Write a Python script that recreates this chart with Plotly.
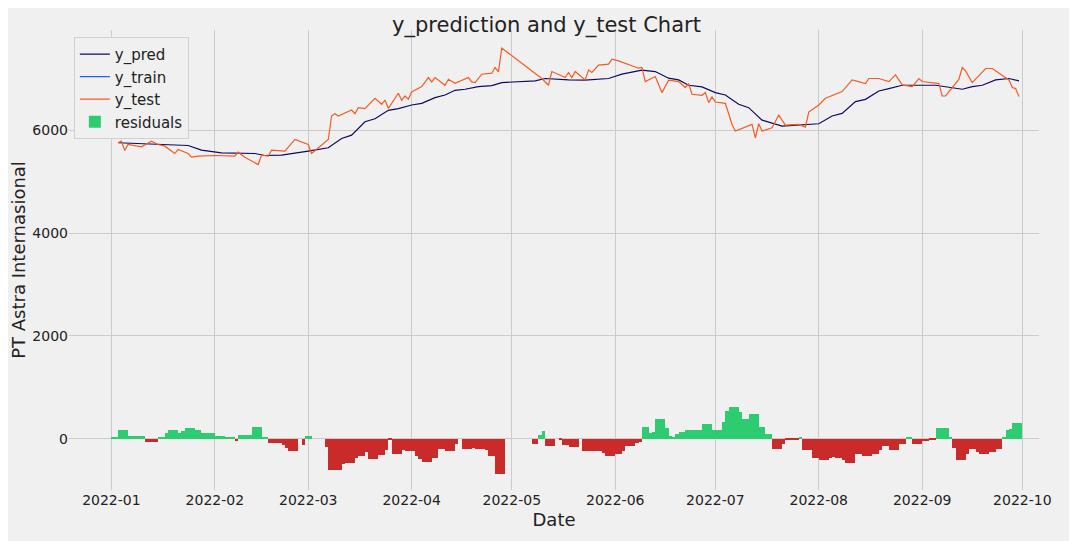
import pandas as pd
import plotly.graph_objects as go

BASE = pd.Timestamp("2022-01-01")

# y_test: day offset from 2022-01-01, value
test_day = [2,3,4,5,9,12,14,16,19,20,23,24,26,31,37,38,40,44,45,47,48,52,55,59,60,65,66,67,68,72,73,74,76,79,81,82,83,86,87,88,89,90,93,95,96,97,100,101,103,107,108,109,111,114,115,116,117,129,131,132,136,137,138,139,142,143,144,146,149,150,152,158,159,160,163,165,167,170,172,173,174,177,178,179,180,181,184,186,187,192,193,194,195,198,200,202,206,208,209,212,214,219,222,226,227,230,233,235,237,240,242,243,248,249,250,254,255,256,258,262,264,269,270,271,272]
test_val = [5756,5788,5605,5723,5677,5788,5723,5690,5547,5625,5547,5475,5495,5508,5495,5573,5475,5332,5514,5495,5612,5592,5820,5723,5547,5820,6276,6322,6276,6393,6322,6439,6420,6621,6504,6588,6426,6719,6582,6666,6601,6744,6849,7025,6939,7025,6875,6992,6914,7025,6939,6927,7090,7109,7220,7135,7597,7006,6875,7142,7025,7123,7025,7142,6979,7174,7123,7266,7285,7383,7350,7207,7220,6947,7045,6732,6973,6947,6830,6908,6699,6680,6732,6537,6647,6549,6523,6113,5983,6113,5853,6126,5983,6048,6295,6100,6113,6061,6354,6491,6621,6752,6979,6908,7006,7006,6947,7077,6881,6849,7006,6947,6908,6666,6666,6992,7220,7155,6927,7201,7201,6979,6830,6810,6654]

# y_pred
pred_day = [2,11,18,23,27,33,43,46,51,55,59,65,69,72,76,79,83,86,90,93,97,100,103,106,110,114,117,127,130,137,142,149,153,159,163,167,170,173,177,181,184,188,191,195,198,201,212,216,219,223,226,230,233,237,247,255,258,261,265,269,272]
pred_val = [5756,5736,5723,5703,5612,5560,5547,5508,5514,5560,5592,5658,5840,5905,6165,6224,6387,6420,6491,6523,6635,6686,6777,6797,6849,6868,6927,6960,7006,6979,6973,7006,7090,7168,7142,7012,6979,6875,6842,6732,6686,6504,6439,6197,6146,6081,6126,6276,6328,6556,6601,6764,6810,6875,6875,6797,6849,6875,6979,7006,6960]

# residuals (bar start day, value)
res_day = [0,2,5,7,10,14,16,17,20,21,22,25,27,28,31,34,37,38,42,45,47,49,51,52,53,56,57,58,60,64,65,69,70,71,73,74,76,77,80,82,83,84,87,88,91,92,93,96,98,100,103,104,105,108,109,112,113,115,118,126,128,129,130,133,134,135,137,140,141,147,148,151,153,154,157,158,159,161,162,163,166,167,168,169,170,172,177,180,183,184,185,188,189,191,194,196,198,201,202,204,206,207,210,212,215,216,217,219,220,223,225,228,230,231,233,236,238,240,243,245,246,247,251,252,253,256,257,259,260,263,265,267,268,269,270,273]
res_val = [20,160,50,55,-60,30,110,170,100,150,210,170,110,100,55,30,-40,70,235,30,-90,-80,-120,-180,-250,0,-130,60,0,-170,-620,-500,-470,-480,-380,-330,-260,-400,-320,-230,-30,-300,-220,-240,-330,-390,-450,-370,-200,-250,-110,0,-210,-180,-210,-230,-340,-680,0,-110,70,140,-150,0,-20,-120,-170,0,-250,-280,-340,-300,-250,-140,-90,-60,220,100,130,390,200,60,40,80,120,170,280,170,320,530,610,510,380,470,220,90,-210,-100,-20,-20,40,-230,-370,-420,-380,-360,-380,-420,-480,-290,-330,-290,-230,-150,-230,-100,40,-110,-50,-20,-30,200,40,-190,-420,-300,-200,-270,-300,-260,-210,20,170,190,310,0]

def to_dates(days):
    return [BASE + pd.Timedelta(days=d) for d in days]

res_x = to_dates(res_day)
DAY_MS = 86400000
res_w = [(res_day[i + 1] - res_day[i]) * DAY_MS for i in range(len(res_day) - 1)] + [0]
res_col = ["#2ECC71" if v >= 0 else "#C92A2A" for v in res_val]

fig = go.Figure()
fig.add_trace(go.Scatter(x=to_dates(pred_day), y=pred_val, mode="lines", name="y_pred",
                         line=dict(color="#0E0A62", width=1.2)))
fig.add_trace(go.Scatter(x=[None], y=[None], mode="lines", name="y_train",
                         line=dict(color="#1C5FE8", width=1.2)))
fig.add_trace(go.Scatter(x=to_dates(test_day), y=test_val, mode="lines", name="y_test",
                         line=dict(color="#F25C22", width=1.2)))
fig.add_trace(go.Bar(x=res_x, y=res_val, width=res_w, offset=0, name="residuals",
                     marker=dict(color=res_col, line=dict(width=0))))

fig.update_layout(
    width=1077, height=541,
    paper_bgcolor="#F0F0F0", plot_bgcolor="#F0F0F0",
    font=dict(family="DejaVu Sans", size=15, color="#222"),
    title=dict(text="y_prediction and y_test Chart", x=0.5, xanchor="center",
               y=0.97, yanchor="middle", font=dict(size=21)),
    margin=dict(l=61, r=46, t=22, b=59),
    bargap=0,
    showlegend=True,
    legend=dict(x=0.005, y=0.985, xanchor="left", yanchor="top", bgcolor="#F0F0F0",
                bordercolor="#D0D0D0", borderwidth=1, font=dict(size=15)),
    xaxis=dict(range=[BASE + pd.Timedelta(days=-12.7), BASE + pd.Timedelta(days=278)],
               showgrid=True, gridcolor="#CBCBCB", gridwidth=1, zeroline=False,
               dtick="M1", tickformat="%Y-%m", ticks="", automargin=False,
               title=dict(text="Date", standoff=6), tickfont=dict(size=14)),
    yaxis=dict(range=[-1000, 7950], tickvals=[0, 2000, 4000, 6000], showgrid=True,
               gridcolor="#CBCBCB", gridwidth=1, zeroline=False, ticks="", automargin=False,
               title=dict(text="PT Astra Internasional", standoff=8), tickfont=dict(size=14)),
)
fig.write_html("out.html")
